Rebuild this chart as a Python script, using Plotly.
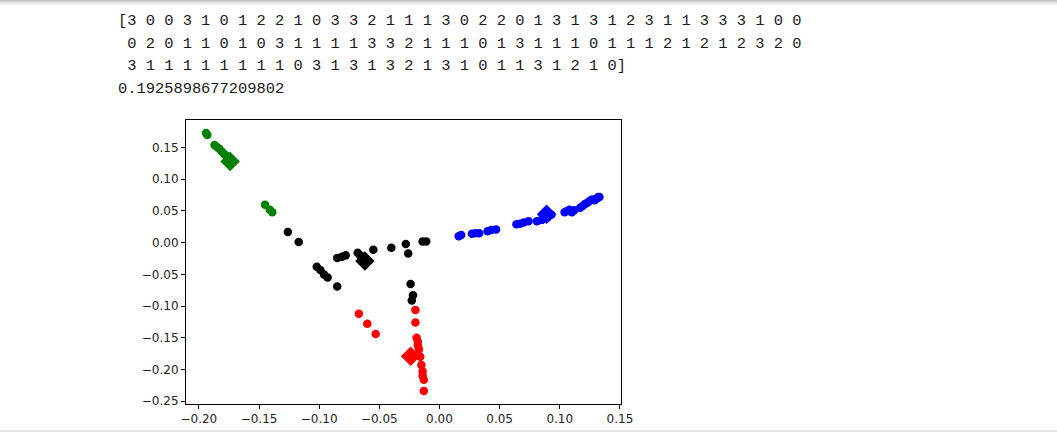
import plotly.graph_objects as go

# ---- data ----
labels_line1 = "[3 0 0 3 1 0 1 2 2 1 0 3 3 2 1 1 1 3 0 2 2 0 1 3 1 3 1 2 3 1 1 3 3 3 1 0 0"
labels_line2 = " 0 2 0 1 1 0 1 0 3 1 1 1 1 3 3 2 1 1 1 0 1 3 1 1 1 0 1 1 1 2 1 2 1 2 3 2 0"
labels_line3 = " 3 1 1 1 1 1 1 1 1 0 3 1 3 1 3 2 1 3 1 0 1 1 3 1 2 1 0]"
score_text = "0.1925898677209802"

green_x = [-0.194, -0.193, -0.187, -0.185, -0.183, -0.181, -0.179, -0.177, -0.176, -0.175, -0.173, -0.145, -0.141, -0.139]
green_y = [0.173, 0.170, 0.154, 0.151, 0.148, 0.144, 0.140, 0.137, 0.133, 0.130, 0.128, 0.060, 0.052, 0.048]

black_x = [-0.126, -0.117, -0.102, -0.099, -0.096, -0.093, -0.085, -0.085, -0.081, -0.078, -0.068, -0.066,
           -0.064, -0.055, -0.040, -0.028, -0.026, -0.014, -0.011, -0.024, -0.022, -0.023]
black_y = [0.017, 0.001, -0.038, -0.043, -0.050, -0.055, -0.069, -0.024, -0.022, -0.020, -0.016, -0.020,
           -0.023, -0.011, -0.008, -0.002, -0.017, 0.002, 0.002, -0.065, -0.083, -0.091]

red_x = [-0.067, -0.060, -0.053, -0.020, -0.020, -0.019, -0.018, -0.018, -0.017, -0.016, -0.015, -0.014,
         -0.014, -0.013, -0.013]
red_y = [-0.112, -0.128, -0.144, -0.106, -0.126, -0.150, -0.156, -0.162, -0.168, -0.180, -0.193, -0.203,
         -0.210, -0.216, -0.234]

blue_x = [0.016, 0.018, 0.027, 0.030, 0.033, 0.040, 0.043, 0.047, 0.064, 0.067, 0.070, 0.074, 0.081, 0.085,
          0.090, 0.093, 0.104, 0.106, 0.108, 0.110, 0.112, 0.117, 0.119, 0.121, 0.123, 0.125, 0.127, 0.129,
          0.131, 0.132, 0.133]
blue_y = [0.010, 0.012, 0.014, 0.015, 0.015, 0.018, 0.020, 0.021, 0.029, 0.030, 0.032, 0.034, 0.034, 0.036,
          0.040, 0.044, 0.048, 0.050, 0.052, 0.048, 0.051, 0.055, 0.058, 0.061, 0.063, 0.066, 0.068, 0.067,
          0.070, 0.072, 0.072]

centroid_x = [-0.174, -0.062, -0.024, 0.089]
centroid_y = [0.128, -0.029, -0.179, 0.045]
centroid_colors = ["green", "black", "red", "blue"]

x_ticks = [-0.20, -0.15, -0.10, -0.05, 0.00, 0.05, 0.10, 0.15]
y_ticks = [0.15, 0.10, 0.05, 0.00, -0.05, -0.10, -0.15, -0.20, -0.25]

W, H = 1057, 432


def fmt(v):
    s = f"{abs(v):.2f}"
    return ("\u2212" + s) if v < -1e-9 else s


fig = go.Figure()
for xs, ys, col in [(green_x, green_y, "green"), (black_x, black_y, "black"),
                    (red_x, red_y, "red"), (blue_x, blue_y, "blue")]:
    fig.add_trace(go.Scatter(x=xs, y=ys, mode="markers",
                             marker=dict(color=col, size=8.5, line=dict(width=0)),
                             showlegend=False, hoverinfo="skip"))
fig.add_trace(go.Scatter(x=centroid_x, y=centroid_y, mode="markers",
                         marker=dict(color=centroid_colors, size=15, symbol="diamond", line=dict(width=0)),
                         showlegend=False, hoverinfo="skip"))

axis_common = dict(showline=True, mirror=True, linecolor="black", linewidth=1,
                   ticks="outside", ticklen=4, tickwidth=1, tickcolor="black",
                   showgrid=False, zeroline=False, automargin=False,
                   tickfont=dict(family="DejaVu Sans", size=12, color="#222222"))

fig.update_layout(
    width=W, height=H,
    margin=dict(l=0, r=0, t=0, b=0),
    paper_bgcolor="white", plot_bgcolor="white",
    xaxis=dict(range=[-0.2107, 0.1509], domain=[186 / W, 621 / W],
               tickvals=x_ticks, ticktext=[fmt(v) for v in x_ticks], **axis_common),
    yaxis=dict(range=[-0.2544, 0.1935], domain=[(H - 404) / H, (H - 120) / H],
               tickvals=y_ticks, ticktext=[fmt(v) for v in y_ticks], **axis_common),
)

# notebook text output
mono = dict(family="Liberation Mono", size=15.4, color="#1a1a1a")
text_lines = [labels_line1, labels_line2, labels_line3, score_text]
line_y = [21, 44, 66, 89]
for t, yy in zip(text_lines, line_y):
    fig.add_annotation(text=t.replace(" ", "\u00a0"), xref="paper", yref="paper",
                       x=116 / W, y=1 - yy / H, xanchor="left", yanchor="middle",
                       showarrow=False, font=mono, align="left")

# top shadow of notebook cell
shades = ["#c4c4c4", "#d4d4d4", "#e2e2e2", "#ececec", "#f4f4f4", "#fafafa"]
for i, c in enumerate(shades):
    fig.add_shape(type="rect", xref="paper", yref="paper",
                  x0=0, x1=1, y0=1 - (i + 1) / H, y1=1 - i / H,
                  line=dict(width=0), fillcolor=c, layer="below")
fig.add_shape(type="rect", xref="paper", yref="paper", x0=0, x1=1, y0=0, y1=2 / H,
              line=dict(width=0), fillcolor="#e6e6e6", layer="below")

fig.write_html("out.html", config={"displayModeBar": False, "staticPlot": True},
               post_script="document.body.style.margin='0';document.body.style.overflow='hidden';")
